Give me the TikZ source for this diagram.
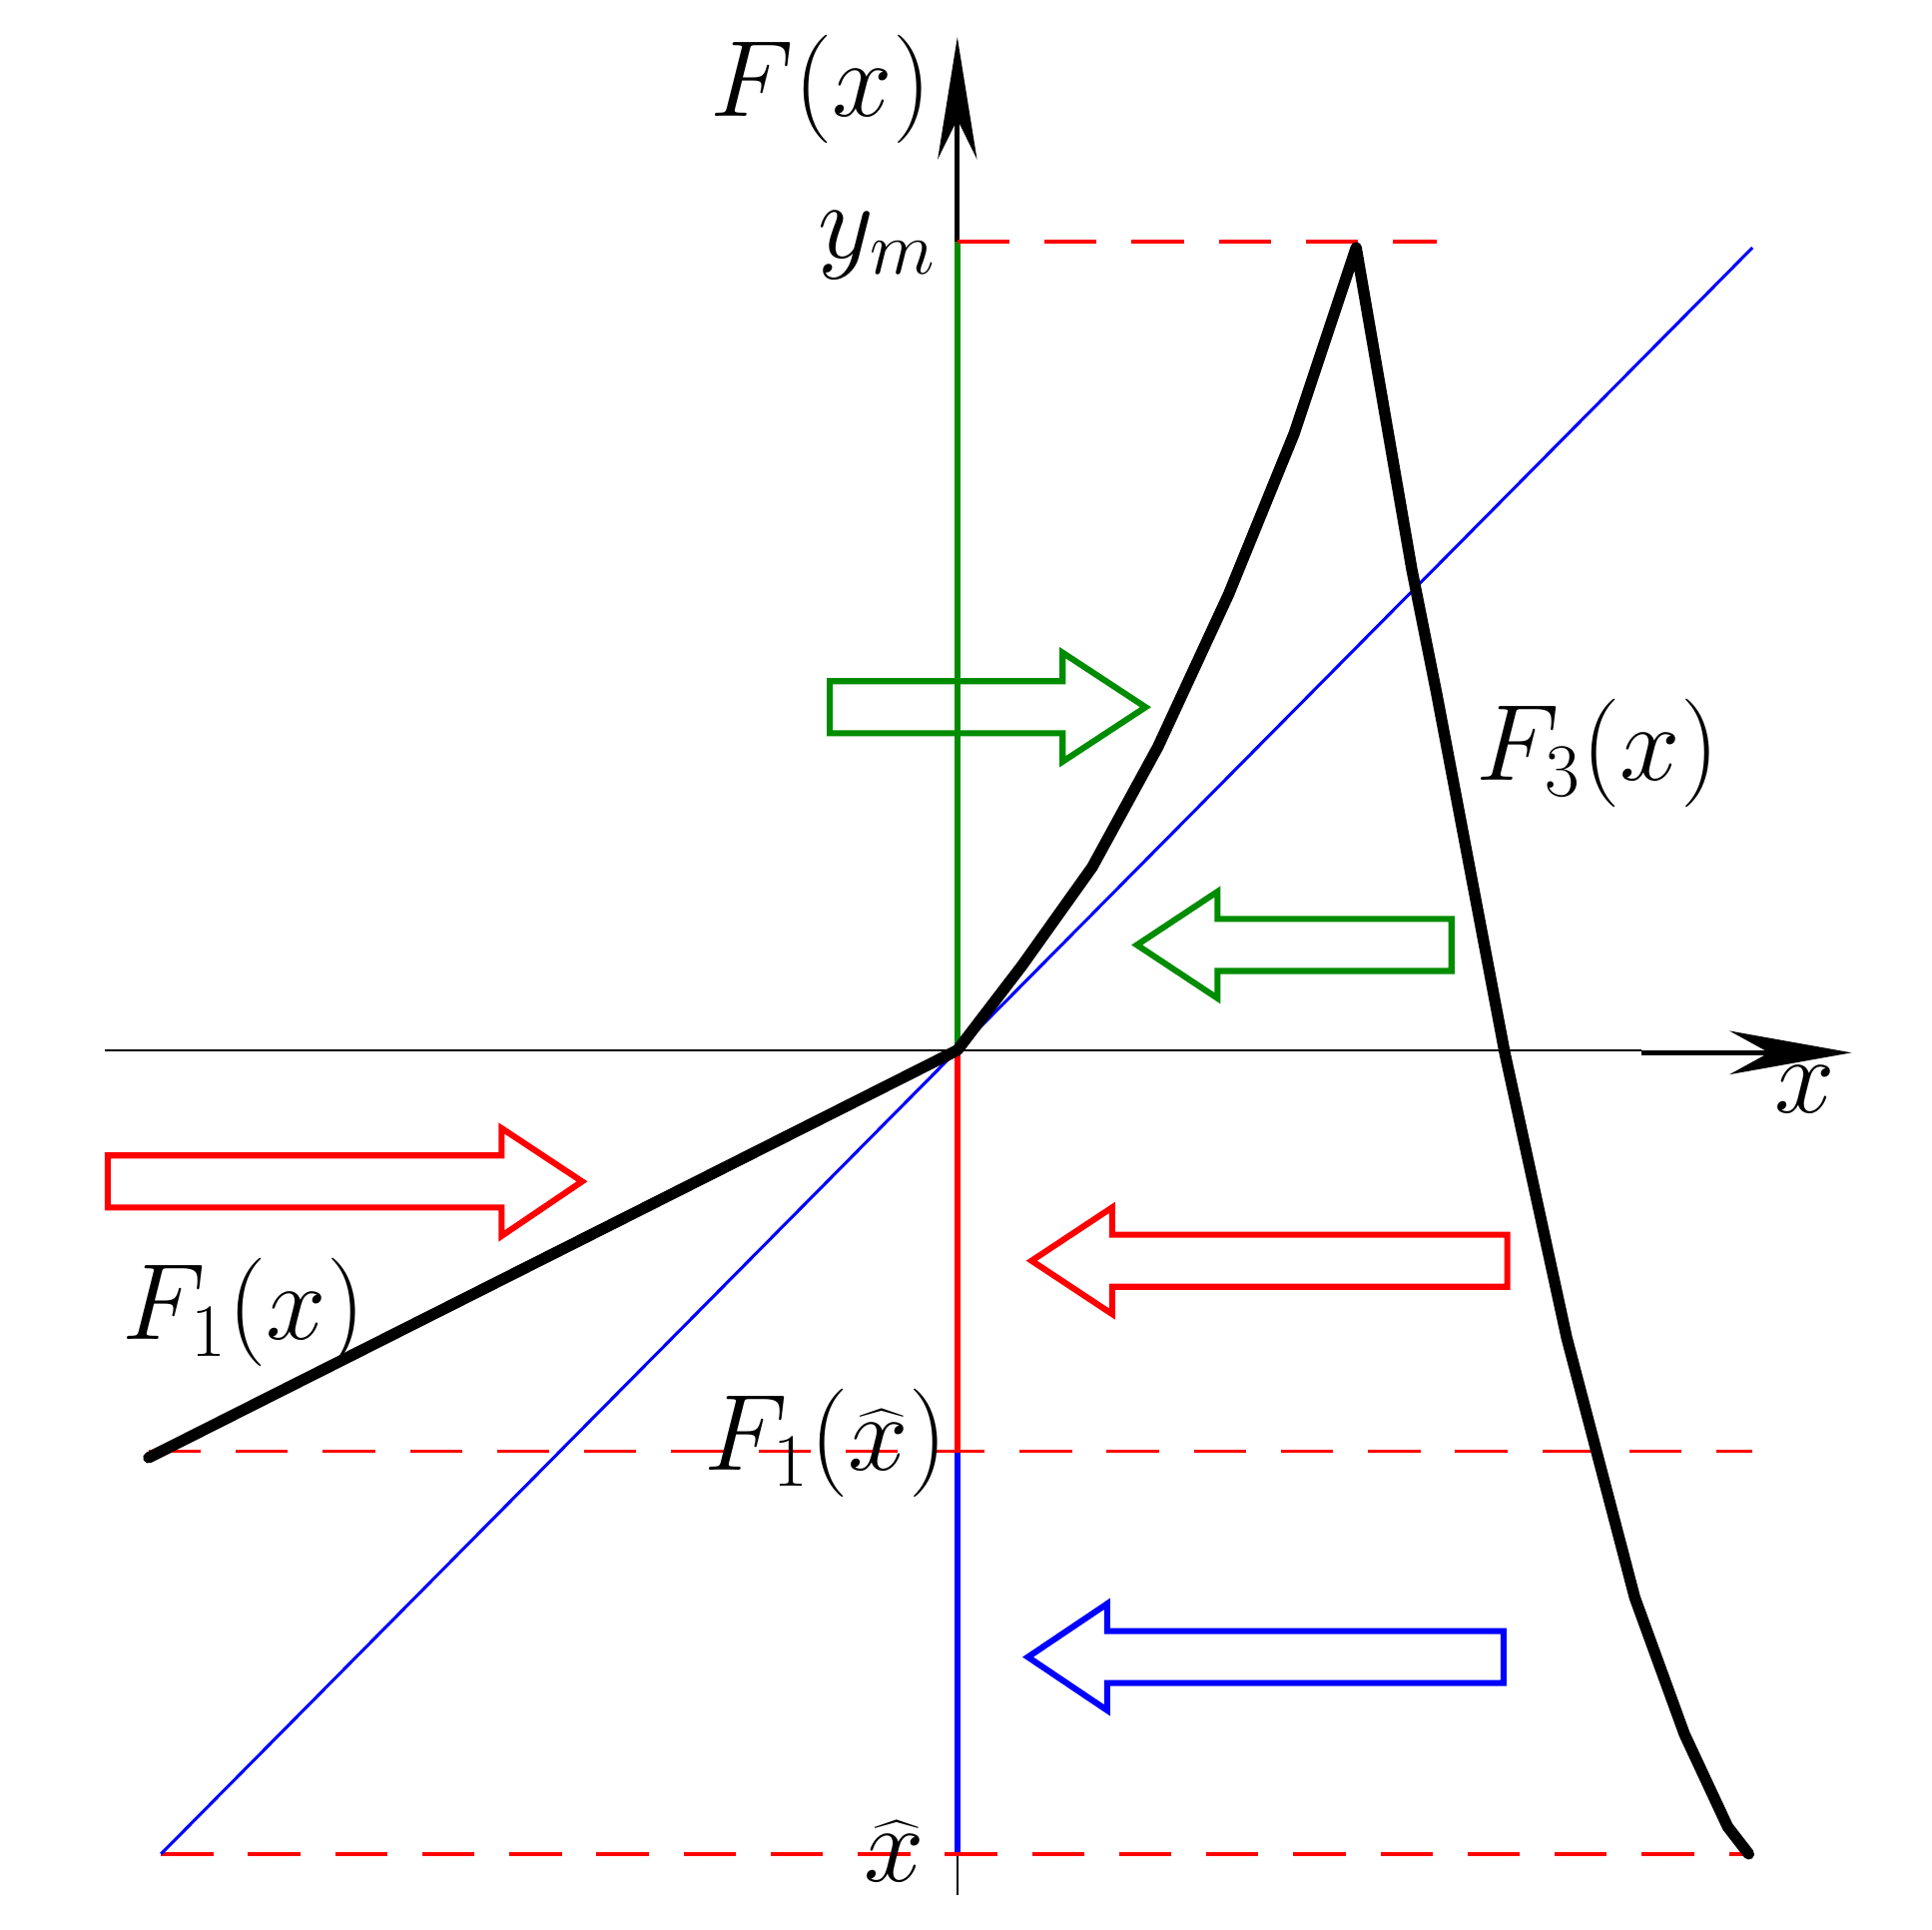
\documentclass[tikz,border=0pt]{standalone}
\usetikzlibrary{arrows.meta}
\begin{document}
\begin{tikzpicture}[x=0.01cm,y=-0.01cm,
  lbl/.style={inner sep=0pt,font=\fontsize{25}{30}\selectfont},
  dsh/.style={red,dash pattern=on 12pt off 8pt,line width=0.8pt},
  curve/.style={line width=2.6pt,line join=round,line cap=round},
  harrow/.style={line width=1.4pt}]
\useasboundingbox (0,0) rectangle (1560,1558);
\coordinate (O) at (773,848);
% axes
\draw[line width=0.5pt] (85,848) -- (1325,848);
\draw[line width=1pt,-{Stealth[length=28pt,width=10pt]}] (1325,850) -- (1495,850);
\draw[line width=0.5pt] (773,1530) -- (773,195);
\draw[line width=1.2pt,-{Stealth[length=28pt,width=9pt]}] (773,195) -- (773,30);
\draw[green!55!black,line width=1.4pt] (O) -- (773,195);
\draw[red,line width=1.4pt] (O) -- (773,1172);
\draw[blue,line width=1.4pt] (773,1172) -- (773,1497);
% dashed
\draw[dsh] (773,195) -- (1160,195);
\draw[dsh] (120,1172) -- (1415,1172);
\draw[dsh] (130,1497) -- (1415,1497);
% blue diagonal
\draw[blue,line width=0.7pt] (130,1497) -- (1415,200);
% curves
\draw[curve] (120,1177) -- (O);
\draw[curve] (O) -- (825,780) -- (882,700) -- (935,603) -- (992,480) -- (1045,350) -- (1095,200)
  -- (1140,460) -- (1160,560) -- (1215,850) -- (1265,1080) -- (1320,1290) -- (1360,1400) -- (1395,1475) -- (1412,1497);
% hollow arrows
\draw[harrow,green!55!black] (670,550) -- (858,550) -- (858,527) -- (925,571) -- (858,615) -- (858,592) -- (670,592) -- cycle;
\draw[harrow,green!55!black] (1172,742) -- (983,742) -- (983,720) -- (918,763) -- (983,806) -- (983,784) -- (1172,784) -- cycle;
\draw[harrow,red] (87,933) -- (405,933) -- (405,911) -- (470,954) -- (405,998) -- (405,975) -- (87,975) -- cycle;
\draw[harrow,red] (1217,997) -- (898,997) -- (898,975) -- (833,1018) -- (898,1061) -- (898,1039) -- (1217,1039) -- cycle;
\draw[harrow,blue] (1214,1317) -- (894,1317) -- (894,1295) -- (830,1338) -- (894,1381) -- (894,1359) -- (1214,1359) -- cycle;
% labels
\node[lbl] (fx) at (663,72) {$F(x)$};
\node[lbl,anchor=east] (ym) at (757,198) {$y_m$};
\node[lbl] (f3) at (1290,608) {$F_3(x)$};
\node[lbl] (xl) at (1457,880) {$x$};
\node[lbl] (f1) at (197,1060) {$F_1(x)$};
\node[lbl] (f1h) at (667,1165) {$F_1(\widehat{x})$};
\node[lbl] (xh) at (722,1495) {$\widehat{x}$};
\end{tikzpicture}
\end{document}
